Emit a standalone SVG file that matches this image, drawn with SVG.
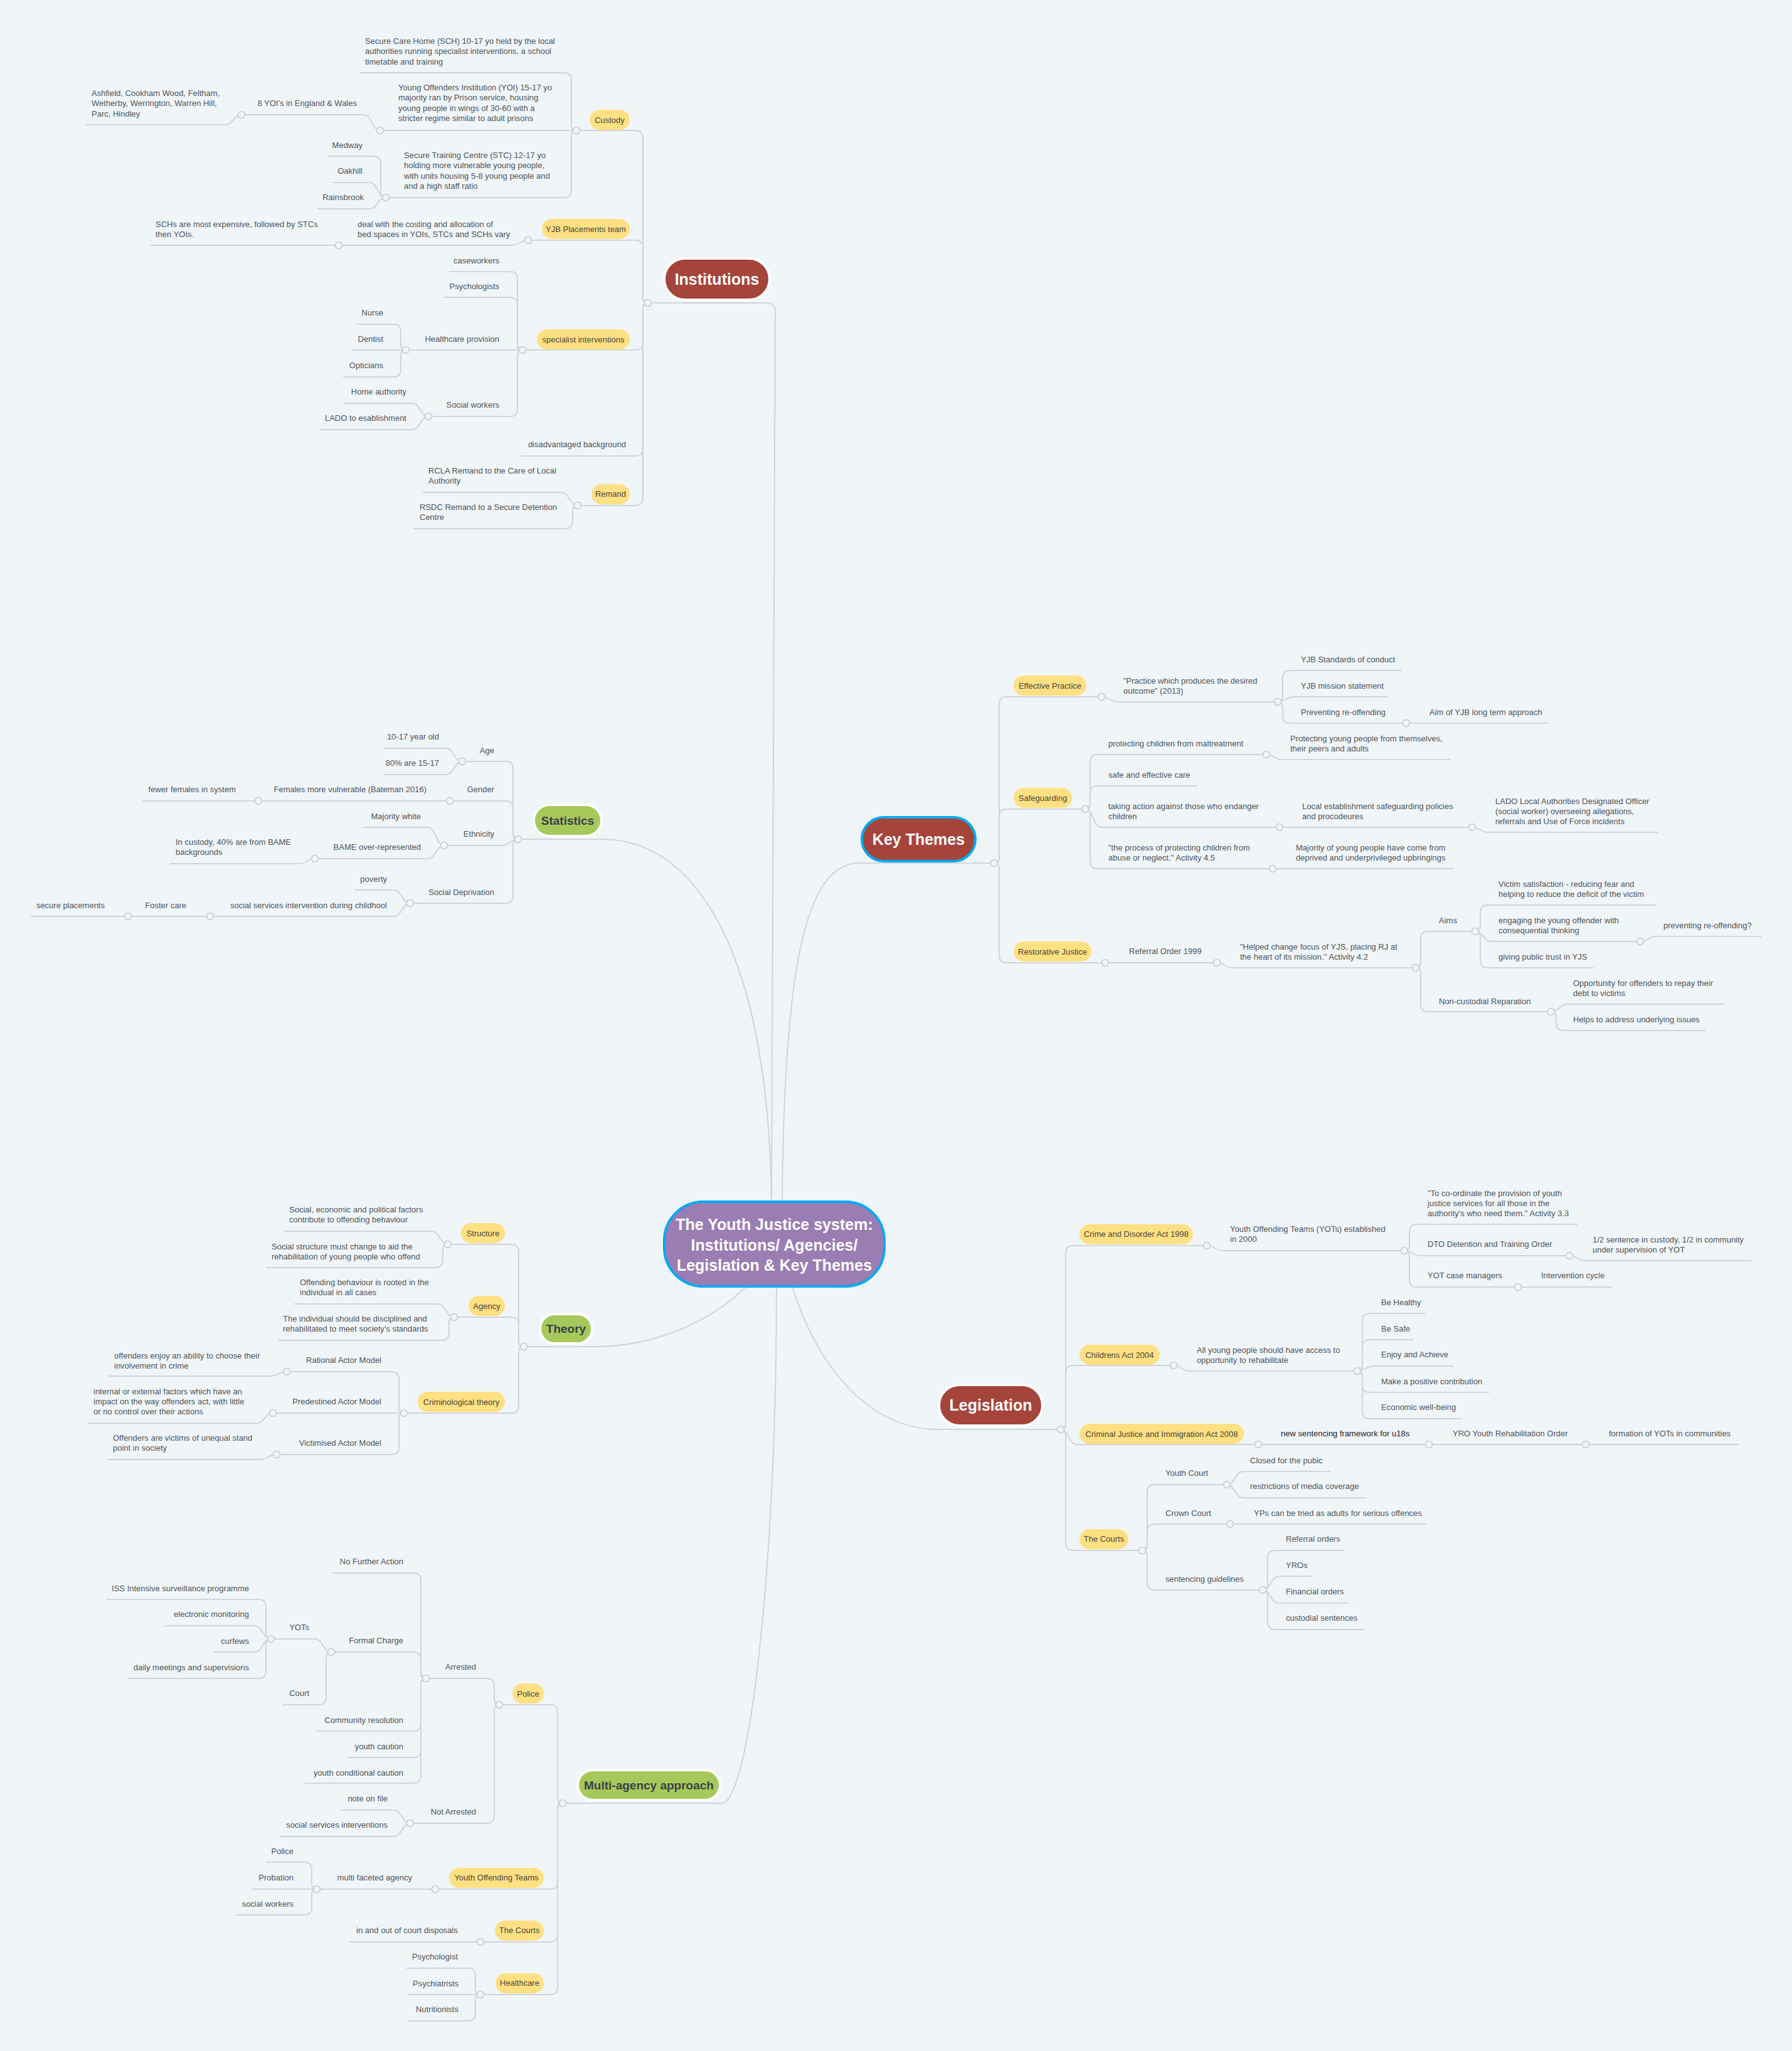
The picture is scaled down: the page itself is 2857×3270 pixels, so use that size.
<svg xmlns="http://www.w3.org/2000/svg" width="2857" height="3270" viewBox="0 0 2857 3270">
<style>
.c{fill:none;stroke:#d0d5d9;stroke-width:2}
.k{fill:#f0f5f8;stroke:#c6cbd0;stroke-width:1.5}
.t{font-family:"Liberation Sans",Arial,sans-serif;font-size:13px;fill:#4d5359}
.dk{fill:#1f2226}
.e{text-anchor:end}
.p{fill:#ffe082}
.pt{font-family:"Liberation Sans",Arial,sans-serif;font-size:13px;fill:#45453c;text-anchor:middle}
.rd{fill:#a5443b;stroke:#ffffff;stroke-width:4}
.gr{fill:#a7c95b;stroke:#ffffff;stroke-width:4}
.mt{font-family:"Liberation Sans",Arial,sans-serif;font-weight:bold;font-size:25px;fill:#ffffff;text-anchor:middle}
.gt{font-family:"Liberation Sans",Arial,sans-serif;font-weight:bold;font-size:19px;fill:#3a4048;text-anchor:middle}
</style>
<rect width="2857" height="3270" fill="#f0f5f8"/>
<g id="connectors" class="c">
<path d="M 1033,483 H 1222 Q 1236,483 1236,497 C 1237,1200 1232,1700 1230,1916"/>
<path d="M 826,1338 H 961 C 1100,1338 1225,1500 1230,1916"/>
<path d="M 1247,1916 C 1250,1560 1280,1376 1370,1376 H 1585"/>
<path d="M 835,2147 H 949 C 1040,2147 1130,2110 1190,2051"/>
<path d="M 1263,2051 C 1300,2170 1380,2279 1497,2279 H 1691"/>
<path d="M 897,2875 H 1150 C 1195,2875 1238,2500 1238,2051"/>
<path d="M 919,208 H 1013 Q 1025,208 1025,220 V 475 Q 1025,483 1033,483"/>
<path d="M 842,383 H 1013 Q 1025,383 1025,395 V 475 Q 1025,483 1033,483"/>
<path d="M 833,558 H 1013 Q 1025,558 1025,546 V 491 Q 1025,483 1033,483"/>
<path d="M 831,727 H 1013 Q 1025,727 1025,715 V 491 Q 1025,483 1033,483"/>
<path d="M 921,806 H 1013 Q 1025,806 1025,794 V 491 Q 1025,483 1033,483"/>
<path d="M 573,116 H 899 Q 911,116 911,128 V 200 Q 911,208 919,208"/>
<path d="M 606,208 H 919"/>
<path d="M 615,315 H 899 Q 911,315 911,303 V 216 Q 911,208 919,208"/>
<path d="M 385,183 H 580 C 593,183 593,208 606,208"/>
<path d="M 136,199 H 359 C 372,199 372,183 385,183"/>
<path d="M 522,249 H 595 Q 607,249 607,261 V 307 Q 607,315 615,315"/>
<path d="M 531,291 H 589 C 602,291 602,315 615,315"/>
<path d="M 506,333 H 589 C 602,333 602,315 615,315"/>
<path d="M 540,391 H 816 C 829,391 829,383 842,383"/>
<path d="M 240,391 H 540"/>
<path d="M 716,433 H 813 Q 825,433 825,445 V 550 Q 825,558 833,558"/>
<path d="M 708,474 H 813 Q 825,474 825,486 V 550 Q 825,558 833,558"/>
<path d="M 647,558 H 833"/>
<path d="M 683,664 H 813 Q 825,664 825,652 V 566 Q 825,558 833,558"/>
<path d="M 569,517 H 627 Q 639,517 639,529 V 550 Q 639,558 647,558"/>
<path d="M 560,558 H 647"/>
<path d="M 547,601 H 627 Q 639,601 639,589 V 566 Q 639,558 647,558"/>
<path d="M 547,643 H 657 C 670,643 670,664 683,664"/>
<path d="M 509,685 H 657 C 670,685 670,664 683,664"/>
<path d="M 674,785 H 895 C 908,785 908,806 921,806"/>
<path d="M 659,843 H 901 Q 913,843 913,831 V 814 Q 913,806 921,806"/>
<path d="M 737,1214 H 806 Q 818,1214 818,1226 V 1330 Q 818,1338 826,1338"/>
<path d="M 717,1277 H 806 Q 818,1277 818,1289 V 1330 Q 818,1338 826,1338"/>
<path d="M 708,1348 H 800 C 813,1348 813,1338 826,1338"/>
<path d="M 654,1440 H 806 Q 818,1440 818,1428 V 1346 Q 818,1338 826,1338"/>
<path d="M 611,1193 H 711 C 724,1193 724,1214 737,1214"/>
<path d="M 611,1235 H 711 C 724,1235 724,1214 737,1214"/>
<path d="M 412,1277 H 717"/>
<path d="M 227,1277 H 412"/>
<path d="M 579,1319 H 682 C 695,1319 695,1348 708,1348"/>
<path d="M 502,1369 H 682 C 695,1369 695,1348 708,1348"/>
<path d="M 271,1377 H 476 C 489,1377 489,1369 502,1369"/>
<path d="M 565,1419 H 628 C 641,1419 641,1440 654,1440"/>
<path d="M 335,1461 H 628 C 641,1461 641,1440 654,1440"/>
<path d="M 204,1461 H 335"/>
<path d="M 49,1461 H 204"/>
<path d="M 1585,1376 Q 1593,1376 1593,1368 V 1123 Q 1593,1111 1605,1111 H 1756"/>
<path d="M 1585,1376 Q 1593,1376 1593,1368 V 1302 Q 1593,1290 1605,1290 H 1730"/>
<path d="M 1585,1376 Q 1593,1376 1593,1384 V 1523 Q 1593,1535 1605,1535 H 1762"/>
<path d="M 1756,1111 C 1769,1111 1769,1119 1782,1119 H 2037"/>
<path d="M 2037,1119 Q 2045,1119 2045,1111 V 1081 Q 2045,1069 2057,1069 H 2235"/>
<path d="M 2037,1119 C 2050,1119 2050,1111 2063,1111 H 2214"/>
<path d="M 2037,1119 Q 2045,1119 2045,1127 V 1141 Q 2045,1153 2057,1153 H 2242"/>
<path d="M 2242,1153 H 2468"/>
<path d="M 1730,1290 Q 1738,1290 1738,1282 V 1215 Q 1738,1203 1750,1203 H 2019"/>
<path d="M 1730,1290 Q 1738,1290 1738,1282 V 1265 Q 1738,1253 1750,1253 H 1909"/>
<path d="M 1730,1290 C 1743,1290 1743,1319 1756,1319 H 2040"/>
<path d="M 1730,1290 Q 1738,1290 1738,1298 V 1373 Q 1738,1385 1750,1385 H 2029"/>
<path d="M 2019,1203 C 2032,1203 2032,1211 2045,1211 H 2312"/>
<path d="M 2040,1319 H 2347"/>
<path d="M 2347,1319 C 2360,1319 2360,1327 2373,1327 H 2643"/>
<path d="M 2029,1385 H 2317"/>
<path d="M 1762,1535 H 1940"/>
<path d="M 1940,1535 C 1953,1535 1953,1543 1966,1543 H 2257"/>
<path d="M 2257,1543 Q 2265,1543 2265,1535 V 1497 Q 2265,1485 2277,1485 H 2352"/>
<path d="M 2257,1543 Q 2265,1543 2265,1551 V 1601 Q 2265,1613 2277,1613 H 2473"/>
<path d="M 2352,1485 Q 2360,1485 2360,1477 V 1455 Q 2360,1443 2372,1443 H 2640"/>
<path d="M 2352,1485 C 2365,1485 2365,1501 2378,1501 H 2615"/>
<path d="M 2352,1485 Q 2360,1485 2360,1493 V 1531 Q 2360,1543 2372,1543 H 2541"/>
<path d="M 2615,1501 C 2628,1501 2628,1493 2641,1493 H 2808"/>
<path d="M 2473,1613 C 2486,1613 2486,1601 2499,1601 H 2749"/>
<path d="M 2473,1613 Q 2481,1613 2481,1621 V 1631 Q 2481,1643 2493,1643 H 2719"/>
<path d="M 714,1984 H 815 Q 827,1984 827,1996 V 2139 Q 827,2147 835,2147"/>
<path d="M 724,2100 H 815 Q 827,2100 827,2112 V 2139 Q 827,2147 835,2147"/>
<path d="M 644,2253 H 815 Q 827,2253 827,2241 V 2155 Q 827,2147 835,2147"/>
<path d="M 452,1963 H 688 C 701,1963 701,1984 714,1984"/>
<path d="M 424,2021 H 694 Q 706,2021 706,2009 V 1992 Q 706,1984 714,1984"/>
<path d="M 469,2079 H 698 C 711,2079 711,2100 724,2100"/>
<path d="M 443,2137 H 704 Q 716,2137 716,2125 V 2108 Q 716,2100 724,2100"/>
<path d="M 457,2187 H 624 Q 636,2187 636,2199 V 2245 Q 636,2253 644,2253"/>
<path d="M 435,2253 H 644"/>
<path d="M 441,2319 H 624 Q 636,2319 636,2307 V 2261 Q 636,2253 644,2253"/>
<path d="M 173,2194 H 431 C 444,2194 444,2187 457,2187"/>
<path d="M 140,2269 H 409 C 422,2269 422,2253 435,2253"/>
<path d="M 172,2327 H 415 C 428,2327 428,2319 441,2319"/>
<path d="M 1691,2279 Q 1699,2279 1699,2271 V 1998 Q 1699,1986 1711,1986 H 1924"/>
<path d="M 1691,2279 Q 1699,2279 1699,2271 V 2189 Q 1699,2177 1711,2177 H 1871"/>
<path d="M 1691,2279 C 1704,2279 1704,2303 1717,2303 H 2006"/>
<path d="M 1691,2279 Q 1699,2279 1699,2287 V 2460 Q 1699,2472 1711,2472 H 1821"/>
<path d="M 1924,1986 C 1937,1986 1937,1994 1950,1994 H 2239"/>
<path d="M 2239,1994 Q 2247,1994 2247,1986 V 1964 Q 2247,1952 2259,1952 H 2515"/>
<path d="M 2239,1994 C 2252,1994 2252,2002 2265,2002 H 2502"/>
<path d="M 2239,1994 Q 2247,1994 2247,2002 V 2040 Q 2247,2052 2259,2052 H 2420"/>
<path d="M 2502,2002 C 2515,2002 2515,2010 2528,2010 H 2793"/>
<path d="M 2420,2052 H 2570"/>
<path d="M 1871,2177 C 1884,2177 1884,2186 1897,2186 H 2164"/>
<path d="M 2164,2186 Q 2172,2186 2172,2178 V 2106 Q 2172,2094 2184,2094 H 2272"/>
<path d="M 2164,2186 Q 2172,2186 2172,2178 V 2148 Q 2172,2136 2184,2136 H 2254"/>
<path d="M 2164,2186 C 2177,2186 2177,2178 2190,2178 H 2318"/>
<path d="M 2164,2186 Q 2172,2186 2172,2194 V 2208 Q 2172,2220 2184,2220 H 2374"/>
<path d="M 2164,2186 Q 2172,2186 2172,2194 V 2250 Q 2172,2262 2184,2262 H 2332"/>
<path d="M 2006,2303 H 2278"/>
<path d="M 2278,2303 H 2528"/>
<path d="M 2528,2303 H 2772"/>
<path d="M 1821,2472 Q 1829,2472 1829,2464 V 2379 Q 1829,2367 1841,2367 H 1956"/>
<path d="M 1821,2472 Q 1829,2472 1829,2464 V 2442 Q 1829,2430 1841,2430 H 1961"/>
<path d="M 1821,2472 Q 1829,2472 1829,2480 V 2523 Q 1829,2535 1841,2535 H 2013"/>
<path d="M 1956,2367 C 1969,2367 1969,2346 1982,2346 H 2121"/>
<path d="M 1956,2367 C 1969,2367 1969,2388 1982,2388 H 2179"/>
<path d="M 1961,2430 H 2275"/>
<path d="M 2013,2535 Q 2021,2535 2021,2527 V 2484 Q 2021,2472 2033,2472 H 2143"/>
<path d="M 2013,2535 C 2026,2535 2026,2513 2039,2513 H 2091"/>
<path d="M 2013,2535 C 2026,2535 2026,2556 2039,2556 H 2150"/>
<path d="M 2013,2535 Q 2021,2535 2021,2543 V 2586 Q 2021,2598 2033,2598 H 2175"/>
<path d="M 796,2718 H 877 Q 889,2718 889,2730 V 2867 Q 889,2875 897,2875"/>
<path d="M 694,3012 H 877 Q 889,3012 889,3000 V 2883 Q 889,2875 897,2875"/>
<path d="M 766,3096 H 877 Q 889,3096 889,3084 V 2883 Q 889,2875 897,2875"/>
<path d="M 766,3180 H 877 Q 889,3180 889,3168 V 2883 Q 889,2875 897,2875"/>
<path d="M 679,2676 H 776 Q 788,2676 788,2688 V 2710 Q 788,2718 796,2718"/>
<path d="M 654,2907 H 776 Q 788,2907 788,2895 V 2726 Q 788,2718 796,2718"/>
<path d="M 530,2508 H 659 Q 671,2508 671,2520 V 2668 Q 671,2676 679,2676"/>
<path d="M 528,2634 H 659 Q 671,2634 671,2646 V 2668 Q 671,2676 679,2676"/>
<path d="M 505,2760 H 659 Q 671,2760 671,2748 V 2684 Q 671,2676 679,2676"/>
<path d="M 554,2802 H 659 Q 671,2802 671,2790 V 2684 Q 671,2676 679,2676"/>
<path d="M 486,2843 H 659 Q 671,2843 671,2831 V 2684 Q 671,2676 679,2676"/>
<path d="M 432,2613 H 502 C 515,2613 515,2634 528,2634"/>
<path d="M 451,2718 H 508 Q 520,2718 520,2706 V 2642 Q 520,2634 528,2634"/>
<path d="M 170,2550 H 412 Q 424,2550 424,2562 V 2605 Q 424,2613 432,2613"/>
<path d="M 263,2592 H 406 C 419,2592 419,2613 432,2613"/>
<path d="M 341,2634 H 406 C 419,2634 419,2613 432,2613"/>
<path d="M 204,2676 H 412 Q 424,2676 424,2664 V 2621 Q 424,2613 432,2613"/>
<path d="M 543,2886 H 628 C 641,2886 641,2907 654,2907"/>
<path d="M 445,2928 H 628 C 641,2928 641,2907 654,2907"/>
<path d="M 505,3012 H 694"/>
<path d="M 424,2969 H 485 Q 497,2969 497,2981 V 3004 Q 497,3012 505,3012"/>
<path d="M 402,3012 H 505"/>
<path d="M 376,3053 H 485 Q 497,3053 497,3041 V 3020 Q 497,3012 505,3012"/>
<path d="M 557,3096 H 766"/>
<path d="M 648,3138 H 746 Q 758,3138 758,3150 V 3172 Q 758,3180 766,3180"/>
<path d="M 649,3180 H 766"/>
<path d="M 650,3222 H 746 Q 758,3222 758,3210 V 3188 Q 758,3180 766,3180"/>
</g>
<g id="toggles" class="k">
<circle cx="1033" cy="483" r="5.5"/><circle cx="919" cy="208" r="5.5"/><circle cx="606" cy="208" r="5.5"/><circle cx="385" cy="183" r="5.5"/><circle cx="615" cy="315" r="5.5"/><circle cx="842" cy="383" r="5.5"/><circle cx="540" cy="391" r="5.5"/><circle cx="833" cy="558" r="5.5"/><circle cx="647" cy="558" r="5.5"/><circle cx="683" cy="664" r="5.5"/><circle cx="921" cy="806" r="5.5"/>
<circle cx="826" cy="1338" r="5.5"/><circle cx="737" cy="1214" r="5.5"/><circle cx="717" cy="1277" r="5.5"/><circle cx="412" cy="1277" r="5.5"/><circle cx="708" cy="1348" r="5.5"/><circle cx="502" cy="1369" r="5.5"/><circle cx="654" cy="1440" r="5.5"/><circle cx="335" cy="1461" r="5.5"/><circle cx="204" cy="1461" r="5.5"/>
<circle cx="1585" cy="1376" r="5.5"/><circle cx="1756" cy="1111" r="5.5"/><circle cx="2037" cy="1119" r="5.5"/><circle cx="2242" cy="1153" r="5.5"/><circle cx="1730" cy="1290" r="5.5"/><circle cx="2019" cy="1203" r="5.5"/><circle cx="2040" cy="1319" r="5.5"/><circle cx="2347" cy="1319" r="5.5"/><circle cx="2029" cy="1385" r="5.5"/><circle cx="1762" cy="1535" r="5.5"/><circle cx="1940" cy="1535" r="5.5"/><circle cx="2257" cy="1543" r="5.5"/><circle cx="2352" cy="1485" r="5.5"/><circle cx="2615" cy="1501" r="5.5"/><circle cx="2473" cy="1613" r="5.5"/>
<circle cx="835" cy="2147" r="5.5"/><circle cx="714" cy="1984" r="5.5"/><circle cx="724" cy="2100" r="5.5"/><circle cx="644" cy="2253" r="5.5"/><circle cx="457" cy="2187" r="5.5"/><circle cx="435" cy="2253" r="5.5"/><circle cx="441" cy="2319" r="5.5"/>
<circle cx="1691" cy="2279" r="5.5"/><circle cx="1924" cy="1986" r="5.5"/><circle cx="2239" cy="1994" r="5.5"/><circle cx="2502" cy="2002" r="5.5"/><circle cx="2420" cy="2052" r="5.5"/><circle cx="1871" cy="2177" r="5.5"/><circle cx="2164" cy="2186" r="5.5"/><circle cx="2006" cy="2303" r="5.5"/><circle cx="2278" cy="2303" r="5.5"/><circle cx="2528" cy="2303" r="5.5"/><circle cx="1821" cy="2472" r="5.5"/><circle cx="1956" cy="2367" r="5.5"/><circle cx="1961" cy="2430" r="5.5"/><circle cx="2013" cy="2535" r="5.5"/>
<circle cx="897" cy="2875" r="5.5"/><circle cx="796" cy="2718" r="5.5"/><circle cx="679" cy="2676" r="5.5"/><circle cx="528" cy="2634" r="5.5"/><circle cx="432" cy="2613" r="5.5"/><circle cx="654" cy="2907" r="5.5"/><circle cx="694" cy="3012" r="5.5"/><circle cx="505" cy="3012" r="5.5"/><circle cx="766" cy="3096" r="5.5"/><circle cx="766" cy="3180" r="5.5"/>
</g>
<g id="n-root"><rect x="1059" y="1916" width="351" height="135" rx="62" fill="#9a7db2" stroke="#00aaf5" stroke-width="4"/><text class="mt"><tspan x="1234.5" y="1961">The Youth Justice system:</tspan><tspan x="1234.5" y="1994">Institutions/ Agencies/</tspan><tspan x="1234.5" y="2026">Legislation &amp; Key Themes</tspan></text></g>
<g id="n-institutions"><rect class="rd" x="1059" y="412" width="168" height="66" rx="33"/><text class="mt" x="1143" y="454">Institutions</text></g>
<g id="n-custody"><rect class="p" x="940" y="175" width="64" height="32" rx="16"/><text class="pt" x="972" y="195.5">Custody</text></g>
<g id="n-sch"><text class="t"><tspan x="582" y="69.5">Secure Care Home (SCH) 10-17 yo held by the local</tspan><tspan x="582" y="86">authorities running specialist interventions, a school</tspan><tspan x="582" y="102.5">timetable and training</tspan></text></g>
<g id="n-yoi"><text class="t"><tspan x="635" y="143.5">Young Offenders Institution (YOI) 15-17 yo</tspan><tspan x="635" y="160">majority ran by Prison service, housing</tspan><tspan x="635" y="176.5">young people in wings of 30-60 with a</tspan><tspan x="635" y="193">stricter regime similar to adult prisons</tspan></text></g>
<g id="n-8yoi"><text class="t e" x="569" y="168.5">8 YOI's in England &amp; Wales</text></g>
<g id="n-ashfield"><text class="t"><tspan x="146" y="152.5">Ashfield, Cookham Wood, Feltham,</tspan><tspan x="146" y="169">Wetherby, Werrington, Warren Hill,</tspan><tspan x="146" y="185.5">Parc, Hindley</tspan></text></g>
<g id="n-stc"><text class="t"><tspan x="644" y="251.5">Secure Training Centre (STC) 12-17 yo</tspan><tspan x="644" y="268">holding more vulnerable young people,</tspan><tspan x="644" y="284.5">with units housing 5-8 young people and</tspan><tspan x="644" y="301">and a high staff ratio</tspan></text></g>
<g id="n-medway"><text class="t e" x="578" y="235.5">Medway</text></g>
<g id="n-oakhill"><text class="t e" x="578" y="276.5">Oakhill</text></g>
<g id="n-rainsbrook"><text class="t e" x="580" y="318.5">Rainsbrook</text></g>
<g id="n-yjb"><rect class="p" x="864" y="349" width="140" height="32" rx="16"/><text class="pt" x="934" y="369.5">YJB Placements team</text></g>
<g id="n-deal"><text class="t"><tspan x="570" y="361.5">deal with the costing and allocation of</tspan><tspan x="570" y="378">bed spaces in YOIs, STCs and SCHs vary</tspan></text></g>
<g id="n-schs"><text class="t"><tspan x="248" y="361.5">SCHs are most expensive, followed by STCs</tspan><tspan x="248" y="378">then YOIs.</tspan></text></g>
<g id="n-specialist"><rect class="p" x="856" y="525" width="148" height="32" rx="16"/><text class="pt" x="930" y="545.5">specialist interventions</text></g>
<g id="n-caseworkers"><text class="t e" x="796" y="419.5">caseworkers</text></g>
<g id="n-psychologists"><text class="t e" x="796" y="460.5">Psychologists</text></g>
<g id="n-healthprov"><text class="t e" x="796" y="544.5">Healthcare provision</text></g>
<g id="n-nurse"><text class="t e" x="611" y="502.5">Nurse</text></g>
<g id="n-dentist"><text class="t e" x="611" y="544.5">Dentist</text></g>
<g id="n-opticians"><text class="t e" x="611" y="586.5">Opticians</text></g>
<g id="n-socialworkers"><text class="t e" x="796" y="649.5">Social workers</text></g>
<g id="n-homeauth"><text class="t e" x="648" y="628.5">Home authority</text></g>
<g id="n-lado-est"><text class="t e" x="648" y="670.5">LADO to esablishment</text></g>
<g id="n-disadv"><text class="t e" x="998" y="712.5">disadvantaged background</text></g>
<g id="n-remand"><rect class="p" x="943" y="772" width="61" height="32" rx="16"/><text class="pt" x="973.5" y="792">Remand</text></g>
<g id="n-rcla"><text class="t"><tspan x="683" y="754.5">RCLA Remand to the Care of Local</tspan><tspan x="683" y="771">Authority</tspan></text></g>
<g id="n-rsdc"><text class="t"><tspan x="669" y="812.5">RSDC Remand to a Secure Detention</tspan><tspan x="669" y="829">Centre</tspan></text></g>
<g id="n-statistics"><rect class="gr" x="851" y="1283" width="108" height="50" rx="25"/><text class="gt" x="905" y="1314.5">Statistics</text></g>
<g id="n-age"><text class="t e" x="788" y="1200.5">Age</text></g>
<g id="n-1017"><text class="t e" x="700" y="1178.5">10-17 year old</text></g>
<g id="n-80"><text class="t e" x="700" y="1220.5">80% are 15-17</text></g>
<g id="n-gender"><text class="t e" x="788" y="1262.5">Gender</text></g>
<g id="n-females"><text class="t e" x="680" y="1262.5">Females more vulnerable (Bateman 2016)</text></g>
<g id="n-fewer"><text class="t e" x="376" y="1262.5">fewer females in system</text></g>
<g id="n-ethnicity"><text class="t e" x="788" y="1333.5">Ethnicity</text></g>
<g id="n-majwhite"><text class="t e" x="671" y="1305.5">Majority white</text></g>
<g id="n-bame"><text class="t e" x="671" y="1354.5">BAME over-represented</text></g>
<g id="n-incustody"><text class="t"><tspan x="280" y="1346.5">In custody, 40% are from BAME</tspan><tspan x="280" y="1363">backgrounds</tspan></text></g>
<g id="n-socdep"><text class="t e" x="788" y="1426.5">Social Deprivation</text></g>
<g id="n-poverty"><text class="t e" x="617" y="1405.5">poverty</text></g>
<g id="n-ssi"><text class="t e" x="617" y="1447.5">social services intervention during childhool</text></g>
<g id="n-foster"><text class="t e" x="297" y="1447.5">Foster care</text></g>
<g id="n-secure"><text class="t e" x="167" y="1447.5">secure placements</text></g>
<g id="n-keythemes"><rect x="1374" y="1303" width="181" height="70" rx="35" fill="#a5443b" stroke="#00aaf5" stroke-width="4"/><text class="mt" x="1464.5" y="1347">Key Themes</text></g>
<g id="n-effective"><rect class="p" x="1616" y="1077" width="116" height="32" rx="16"/><text class="pt" x="1674" y="1097.5">Effective Practice</text></g>
<g id="n-practice"><text class="t"><tspan x="1791" y="1089.5">"Practice which produces the desired</tspan><tspan x="1791" y="1105.5">outcome" (2013)</tspan></text></g>
<g id="n-standards"><text class="t" x="2074" y="1055.5">YJB Standards of conduct</text></g>
<g id="n-mission"><text class="t" x="2074" y="1097.5">YJB mission statement</text></g>
<g id="n-preventing"><text class="t" x="2074" y="1139.5">Preventing re-offending</text></g>
<g id="n-aimyjb"><text class="t" x="2279" y="1139.5">Aim of YJB long term approach</text></g>
<g id="n-safeguarding"><rect class="p" x="1616" y="1256" width="93" height="32" rx="16"/><text class="pt" x="1662.5" y="1276.5">Safeguarding</text></g>
<g id="n-protecting"><text class="t" x="1767" y="1189.5">protecting children from maltreatment</text></g>
<g id="n-protyp"><text class="t"><tspan x="2057" y="1181.5">Protecting young people from themselves,</tspan><tspan x="2057" y="1197.5">their peers and adults</tspan></text></g>
<g id="n-safecare"><text class="t" x="1767" y="1239.5">safe and effective care</text></g>
<g id="n-taking"><text class="t"><tspan x="1767" y="1289.5">taking action against those who endanger</tspan><tspan x="1767" y="1305.5">children</tspan></text></g>
<g id="n-localest"><text class="t"><tspan x="2076" y="1289.5">Local establishment safeguarding policies</tspan><tspan x="2076" y="1305.5">and procodeures</tspan></text></g>
<g id="n-lado"><text class="t"><tspan x="2384" y="1281.5">LADO Local Authorities Designated Officer</tspan><tspan x="2384" y="1297.5">(social worker) overseeing allegations,</tspan><tspan x="2384" y="1313.5">referrals and Use of Force incidents</tspan></text></g>
<g id="n-process"><text class="t"><tspan x="1767" y="1355.5">"the process of protecting children from</tspan><tspan x="1767" y="1371.5">abuse or neglect." Activity 4.5</tspan></text></g>
<g id="n-majority"><text class="t"><tspan x="2066" y="1355.5">Majority of young people have come from</tspan><tspan x="2066" y="1371.5">deprived and underprivileged upbringings</tspan></text></g>
<g id="n-rj"><rect class="p" x="1616" y="1501" width="124" height="32" rx="16"/><text class="pt" x="1678" y="1521.5">Restorative Justice</text></g>
<g id="n-referral1999"><text class="t" x="1800" y="1520.5">Referral Order 1999</text></g>
<g id="n-helped"><text class="t"><tspan x="1977" y="1513.5">"Helped change focus of YJS, placing RJ at</tspan><tspan x="1977" y="1529.5">the heart of its mission." Activity 4.2</tspan></text></g>
<g id="n-aims"><text class="t" x="2294" y="1471.5">Aims</text></g>
<g id="n-victim"><text class="t"><tspan x="2389" y="1413.5">Victim satisfaction - reducing fear and</tspan><tspan x="2389" y="1429.5">helping to reduce the deficit of the victim</tspan></text></g>
<g id="n-engaging"><text class="t"><tspan x="2389" y="1471.5">engaging the young offender with</tspan><tspan x="2389" y="1487.5">consequential thinking</tspan></text></g>
<g id="n-prevq"><text class="t" x="2652" y="1479.5">preventing re-offending?</text></g>
<g id="n-trust"><text class="t" x="2389" y="1529.5">giving public trust in YJS</text></g>
<g id="n-noncust"><text class="t" x="2294" y="1600.5">Non-custodial Reparation</text></g>
<g id="n-opportunity"><text class="t"><tspan x="2508" y="1571.5">Opportunity for offenders to repay their</tspan><tspan x="2508" y="1587.5">debt to victims</tspan></text></g>
<g id="n-helps"><text class="t" x="2508" y="1629.5">Helps to address underlying issues</text></g>
<g id="n-theory"><rect class="gr" x="861" y="2095" width="83" height="47" rx="23.5"/><text class="gt" x="902.5" y="2125">Theory</text></g>
<g id="n-structure"><rect class="p" x="735" y="1950" width="70" height="32" rx="16"/><text class="pt" x="770" y="1970.5">Structure</text></g>
<g id="n-socecon"><text class="t"><tspan x="461" y="1932.5">Social, economic and political factors</tspan><tspan x="461" y="1948.5">contribute to offending behaviour</tspan></text></g>
<g id="n-socstruct"><text class="t"><tspan x="433" y="1991.5">Social structure must change to aid the</tspan><tspan x="433" y="2007.5">rehabilitation of young people who offend</tspan></text></g>
<g id="n-agency"><rect class="p" x="747" y="2066" width="58" height="32" rx="16"/><text class="pt" x="776" y="2086.5">Agency</text></g>
<g id="n-offbeh"><text class="t"><tspan x="478" y="2048.5">Offending behaviour is rooted in the</tspan><tspan x="478" y="2064.5">individual in all cases</tspan></text></g>
<g id="n-individual"><text class="t"><tspan x="451" y="2106.5">The individual should be disciplined and</tspan><tspan x="451" y="2122.5">rehabilitated to meet society's standards</tspan></text></g>
<g id="n-crim"><rect class="p" x="666" y="2219" width="139" height="32" rx="16"/><text class="pt" x="735.5" y="2239.5">Criminological theory</text></g>
<g id="n-rational"><text class="t e" x="608" y="2172.5">Rational Actor Model</text></g>
<g id="n-enjoy"><text class="t"><tspan x="182" y="2165.5">offenders enjoy an ability to choose their</tspan><tspan x="182" y="2181.5">involvement in crime</tspan></text></g>
<g id="n-predestined"><text class="t e" x="608" y="2238.5">Predestined Actor Model</text></g>
<g id="n-internal"><text class="t"><tspan x="149" y="2222.5">internal or external factors which have an</tspan><tspan x="149" y="2238.5">impact on the way offenders act, with little</tspan><tspan x="149" y="2254.5">or no control over their actions</tspan></text></g>
<g id="n-victimised"><text class="t e" x="608" y="2304.5">Victimised Actor Model</text></g>
<g id="n-unequal"><text class="t"><tspan x="180" y="2296.5">Offenders are victims of unequal stand</tspan><tspan x="180" y="2312.5">point in society</tspan></text></g>
<g id="n-legislation"><rect class="rd" x="1497" y="2208" width="165" height="65" rx="32.5"/><text class="mt" x="1579.5" y="2249">Legislation</text></g>
<g id="n-cda"><rect class="p" x="1721" y="1952" width="181" height="32" rx="16"/><text class="pt" x="1811.5" y="1972">Crime and Disorder Act 1998</text></g>
<g id="n-yotsest"><text class="t"><tspan x="1961" y="1963.5">Youth Offending Teams (YOTs) established</tspan><tspan x="1961" y="1979.5">in 2000</tspan></text></g>
<g id="n-coord"><text class="t"><tspan x="2276" y="1906.5">"To co-ordinate the provision of youth</tspan><tspan x="2276" y="1922.5">justice services for all those in the</tspan><tspan x="2276" y="1938.5">authority's who need them." Activity 3.3</tspan></text></g>
<g id="n-dto"><text class="t" x="2276" y="1987.5">DTO Detention and Training Order</text></g>
<g id="n-half"><text class="t"><tspan x="2539" y="1980.5">1/2 sentence in custody, 1/2 in community</tspan><tspan x="2539" y="1996.5">under supervision of YOT</tspan></text></g>
<g id="n-yotcase"><text class="t" x="2276" y="2037.5">YOT case managers</text></g>
<g id="n-intcycle"><text class="t" x="2457" y="2037.5">Intervention cycle</text></g>
<g id="n-childrens"><rect class="p" x="1721" y="2144" width="128" height="32" rx="16"/><text class="pt" x="1785" y="2164.5">Childrens Act 2004</text></g>
<g id="n-allyoung"><text class="t"><tspan x="1908" y="2156.5">All young people should have access to</tspan><tspan x="1908" y="2172.5">opportunity to rehabilitate</tspan></text></g>
<g id="n-healthy"><text class="t" x="2202" y="2080.5">Be Healthy</text></g>
<g id="n-safe"><text class="t" x="2202" y="2122.5">Be Safe</text></g>
<g id="n-enjoyach"><text class="t" x="2202" y="2163.5">Enjoy and Achieve</text></g>
<g id="n-positive"><text class="t" x="2202" y="2206.5">Make a positive contribution</text></g>
<g id="n-economic"><text class="t" x="2202" y="2247.5">Economic well-being</text></g>
<g id="n-cjia"><rect class="p" x="1721" y="2270" width="262" height="32" rx="16"/><text class="pt" x="1852" y="2290.5">Criminal Justice and Immigration Act 2008</text></g>
<g id="n-newsent"><text class="t dk" x="2042" y="2289.5">new sentencing framework for u18s</text></g>
<g id="n-yro"><text class="t" x="2316" y="2289.5">YRO Youth Rehabilitation Order</text></g>
<g id="n-formation"><text class="t" x="2565" y="2289.5">formation of YOTs in communities</text></g>
<g id="n-courts"><rect class="p" x="1721" y="2438" width="78" height="32" rx="16"/><text class="pt" x="1760" y="2458">The Courts</text></g>
<g id="n-youthcourt"><text class="t" x="1858" y="2352.5">Youth Court</text></g>
<g id="n-closed"><text class="t" x="1993" y="2332.5">Closed for the pubic</text></g>
<g id="n-media"><text class="t" x="1993" y="2373.5">restrictions of media coverage</text></g>
<g id="n-crown"><text class="t" x="1858" y="2416.5">Crown Court</text></g>
<g id="n-yps"><text class="t" x="1999" y="2416.5">YPs can be tried as adults for serious offences</text></g>
<g id="n-sentguide"><text class="t" x="1858" y="2521.5">sentencing guidelines</text></g>
<g id="n-refords"><text class="t" x="2050" y="2457.5">Referral orders</text></g>
<g id="n-yros"><text class="t" x="2050" y="2499.5">YROs</text></g>
<g id="n-financial"><text class="t" x="2050" y="2541.5">Financial orders</text></g>
<g id="n-custodial"><text class="t" x="2050" y="2583.5">custodial sentences</text></g>
<g id="n-multi"><rect class="gr" x="921" y="2822" width="227" height="48" rx="24"/><text class="gt" x="1034.5" y="2852.5">Multi-agency approach</text></g>
<g id="n-police"><rect class="p" x="817" y="2684" width="50" height="32" rx="16"/><text class="pt" x="842" y="2704.5">Police</text></g>
<g id="n-arrested"><text class="t e" x="759" y="2661.5">Arrested</text></g>
<g id="n-nfa"><text class="t e" x="643" y="2493.5">No Further Action</text></g>
<g id="n-formal"><text class="t e" x="643" y="2619.5">Formal Charge</text></g>
<g id="n-yots"><text class="t e" x="493" y="2598.5">YOTs</text></g>
<g id="n-iss"><text class="t e" x="397" y="2536.5">ISS Intensive surveillance programme</text></g>
<g id="n-electronic"><text class="t e" x="397" y="2577.5">electronic monitoring</text></g>
<g id="n-curfews"><text class="t e" x="397" y="2620.5">curfews</text></g>
<g id="n-daily"><text class="t e" x="397" y="2662.5">daily meetings and supervisions</text></g>
<g id="n-court"><text class="t e" x="493" y="2703.5">Court</text></g>
<g id="n-community"><text class="t e" x="643" y="2746.5">Community resolution</text></g>
<g id="n-caution"><text class="t e" x="643" y="2788.5">youth caution</text></g>
<g id="n-condcaution"><text class="t e" x="643" y="2830.5">youth conditional caution</text></g>
<g id="n-notarrested"><text class="t e" x="759" y="2892.5">Not Arrested</text></g>
<g id="n-note"><text class="t e" x="618" y="2871.5">note on file</text></g>
<g id="n-ssint"><text class="t e" x="618" y="2913.5">social services interventions</text></g>
<g id="n-yot"><rect class="p" x="716" y="2978" width="151" height="32" rx="16"/><text class="pt" x="791.5" y="2998">Youth Offending Teams</text></g>
<g id="n-multifac"><text class="t e" x="657" y="2997.5">multi faceted agency</text></g>
<g id="n-police2"><text class="t e" x="468" y="2955.5">Police</text></g>
<g id="n-probation"><text class="t e" x="468" y="2997.5">Probation</text></g>
<g id="n-socworkers2"><text class="t e" x="468" y="3039.5">social workers</text></g>
<g id="n-courts2"><rect class="p" x="789" y="3062" width="78" height="32" rx="16"/><text class="pt" x="828" y="3082">The Courts</text></g>
<g id="n-inout"><text class="t e" x="730" y="3081.5">in and out of court disposals</text></g>
<g id="n-healthcare"><rect class="p" x="790" y="3146" width="77" height="32" rx="16"/><text class="pt" x="828.5" y="3166">Healthcare</text></g>
<g id="n-psychologist"><text class="t e" x="730" y="3123.5">Psychologist</text></g>
<g id="n-psychiatrists"><text class="t e" x="731" y="3166.5">Psychiatrists</text></g>
<g id="n-nutritionists"><text class="t e" x="731" y="3207.5">Nutritionists</text></g>
</svg>
